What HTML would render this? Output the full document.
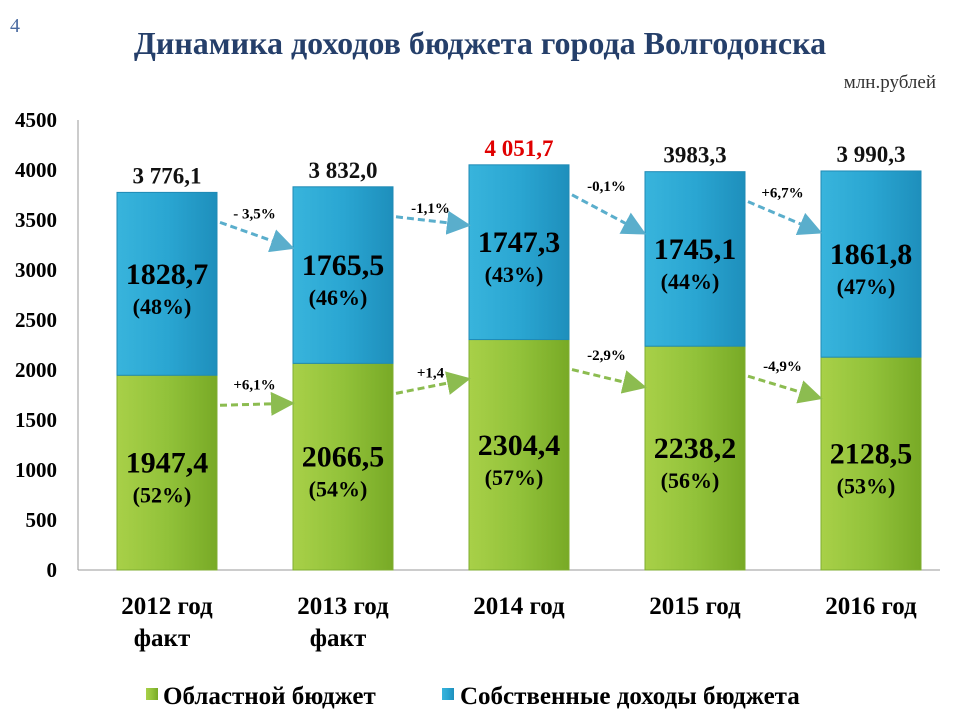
<!DOCTYPE html>
<html><head><meta charset="utf-8"><style>
body{margin:0;background:#fff;}
svg text{font-family:"Liberation Serif",serif;font-weight:bold;}
</style></head><body>
<svg width="960" height="720" viewBox="0 0 960 720">
<defs>
<linearGradient id="gb" x1="0" x2="1"><stop offset="0" stop-color="#38b4dc"/><stop offset="0.5" stop-color="#2aa6d2"/><stop offset="1" stop-color="#1e8fbc"/></linearGradient>
<linearGradient id="gg" x1="0" x2="1"><stop offset="0" stop-color="#a8d048"/><stop offset="0.5" stop-color="#92c23a"/><stop offset="1" stop-color="#78aa26"/></linearGradient>
<marker id="ab" markerWidth="8" markerHeight="8" refX="6" refY="4" orient="auto"><path d="M0,0 L8,4 L0,8 z" fill="#5aaecc"/></marker>
<marker id="ag" markerWidth="8" markerHeight="8" refX="6" refY="4" orient="auto"><path d="M0,0 L8,4 L0,8 z" fill="#8cbc50"/></marker>
</defs>
<text x="10" y="32" font-size="20" fill="#4a6aa0" style="font-weight:normal">4</text>
<text x="480" y="54" font-size="32" fill="#253f6a" text-anchor="middle">Динамика доходов бюджета города Волгодонска</text>
<text x="936" y="88" font-size="19" fill="#333" text-anchor="end" style="font-weight:normal">млн.рублей</text>
<line x1="78" y1="120" x2="78" y2="570" stroke="#999"/>
<line x1="78" y1="570" x2="940" y2="570" stroke="#999"/>
<g id="ticks"></g>
<g id="bars"></g>
<g id="labels"></g>
<g>
<rect x="146" y="688" width="12" height="12" fill="url(#gg)"/>
<text x="163" y="704" font-size="25">Областной бюджет</text>
<rect x="442" y="688" width="12" height="12" fill="url(#gb)"/>
<text x="460" y="704" font-size="25">Собственные доходы бюджета</text>
</g>
</svg>
<script>
const categories=["2012 год|факт","2013 год|факт","2014 год","2015 год","2016 год"];
const regional=[1947.4,2066.5,2304.4,2238.2,2128.5];
const own=[1828.7,1765.5,1747.3,1745.1,1861.8];
const totals=["3 776,1","3 832,0","4 051,7","3983,3","3 990,3"];
const regionalPct=["(52%)","(54%)","(57%)","(56%)","(53%)"];
const ownPct=["(48%)","(46%)","(43%)","(44%)","(47%)"];
const ownChange=["- 3,5%","-1,1%","-0,1%","+6,7%"];
const regChange=["+6,1%","+1,4","-2,9%","-4,9%"];
const yTicks=[0,500,1000,1500,2000,2500,3000,3500,4000,4500];
const NS="http://www.w3.org/2000/svg";
const y=v=>570-v*0.1;
const xc=i=>167+i*176;
const BW=100;
function mk(t,a,p,txt){const e=document.createElementNS(NS,t);for(const k in a)e.setAttribute(k,a[k]);if(txt!==undefined)e.textContent=txt;p.appendChild(e);return e;}
const T=document.getElementById('ticks'),B=document.getElementById('bars'),L=document.getElementById('labels');
yTicks.forEach(v=>{const t=mk('text',{x:57,y:y(v)+7,'font-size':21,'text-anchor':'end'},T,v);

});
categories.forEach((c,i)=>{
 const g=mk('rect',{x:xc(i)-BW/2,y:y(regional[i]),width:BW,height:regional[i]*0.1,fill:'url(#gg)',stroke:'#7fae30'},B);
 
 
 const tot=regional[i]+own[i];
 const b=mk('rect',{x:xc(i)-BW/2,y:y(tot),width:BW,height:own[i]*0.1,fill:'url(#gb)',stroke:'#1f8ab5'},B);
 
 
 const tl=mk('text',{x:xc(i),y:y(tot)-9,'font-size':23,'text-anchor':'middle',fill:i==2?'#e00000':'#111'},L,totals[i]);
 
 
 const ym=y(regional[i]+own[i]*0.5);
 const ov=mk('text',{x:xc(i),y:ym,'font-size':30,'text-anchor':'middle'},L,own[i].toFixed(1).replace('.',','));
 
 
 const op=mk('text',{x:xc(i)-5,y:ym+30,'font-size':22,'text-anchor':'middle'},L,ownPct[i]);
 
 
 const yr=y(regional[i]*0.5);
 const rv=mk('text',{x:xc(i),y:yr,'font-size':30,'text-anchor':'middle'},L,regional[i].toFixed(1).replace('.',','));
 
 
 const rp=mk('text',{x:xc(i)-5,y:yr+30,'font-size':22,'text-anchor':'middle'},L,regionalPct[i]);
 
 
 c.split('|').forEach((s,k)=>{const ct=mk('text',{x:xc(i)-(k?5:0),y:614+k*32,'font-size':25,'text-anchor':'middle'},L,s);
 
 });
 if(i<categories.length-1){
  const t0=tot,t1=regional[i+1]+own[i+1];
  const x0=xc(i)+BW/2+3,x1=xc(i+1)-BW/2-4;
  const a=mk('line',{x1:x0,y1:y(t0)+30,x2:x1,y2:y(t1)+60,stroke:'#5aaecc','stroke-width':3,'stroke-dasharray':'7,4','marker-end':'url(#ab)'},L);
  
  
  const at=mk('text',{x:(x0+x1)/2,y:y(t0)+26,'font-size':15,'text-anchor':'middle'},L,ownChange[i]);
  
  
  const g0=regional[i],g1=regional[i+1];
  const a2=mk('line',{x1:x0,y1:y(g0)+30,x2:x1,y2:y(g1)+40,stroke:'#8cbc50','stroke-width':3,'stroke-dasharray':'7,4','marker-end':'url(#ag)'},L);
  
  
  const gt=mk('text',{x:(x0+x1)/2,y:Math.max(y(g0),y(g1))+14,'font-size':15,'text-anchor':'middle'},L,regChange[i]);
  
  
 }
});
</script>
</body></html>
